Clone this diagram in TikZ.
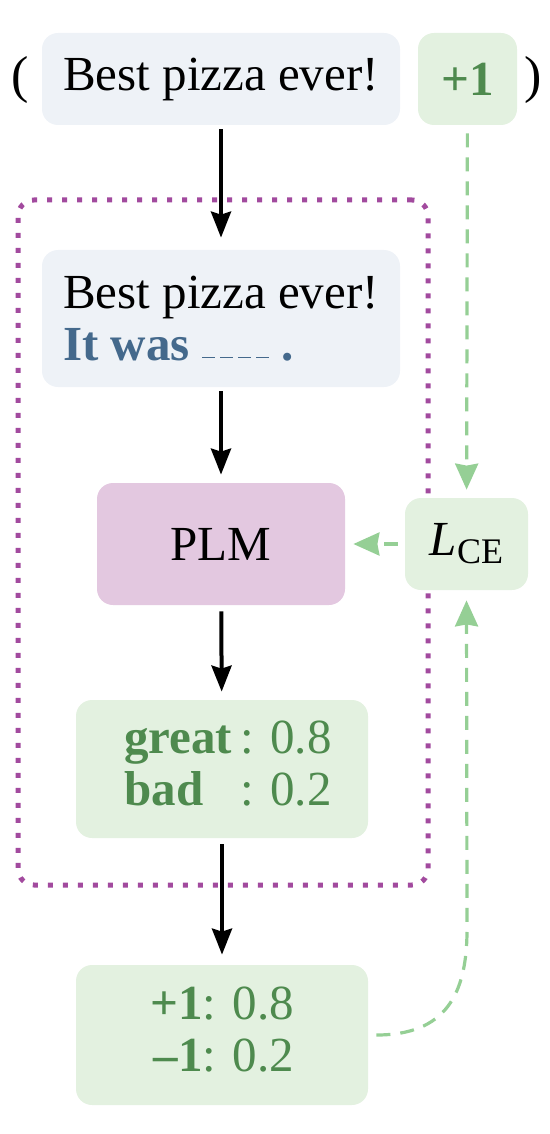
\documentclass[tikz,border=0pt]{standalone}
\usepackage{fontspec}
\setmainfont{Liberation Serif}
\usetikzlibrary{arrows.meta, positioning}
\definecolor{boxblue}{HTML}{EEF2F7}
\definecolor{boxgreen}{HTML}{E3F1E0}
\definecolor{boxplm}{HTML}{E3C8E0}
\definecolor{textgreen}{HTML}{4E8A4E}
\definecolor{textblue}{HTML}{44698C}
\definecolor{linegreen}{HTML}{95CF95}
\definecolor{framepurple}{HTML}{A24A9E}
\newcommand{\blankdash}{\rule[1pt]{6.5pt}{0.9pt}}

\begin{document}
\begin{tikzpicture}[x=0.5pt, y=-0.5pt,
	box/.style={rectangle, rounded corners=8pt, inner sep=0pt, align=center,
	            font=\fontsize{24.5}{26}\selectfont},
	sent/.style={box, fill=boxblue, minimum width=179pt},
	gbox/.style={box, fill=boxgreen, text=textgreen},
	plm/.style={box, fill=boxplm, minimum width=124pt, minimum height=61pt},
	paren/.style={inner sep=0pt, font=\fontsize{26}{26}\selectfont},
	frame/.style={rectangle, draw=framepurple, line width=2.5pt, rounded corners=8pt,
	              dash pattern=on 2.5pt off 5pt, minimum width=205pt, minimum height=342.5pt},
	arr/.style={-{Stealth[length=13pt,width=10pt,inset=1.5pt]}, line width=2pt},
	garr/.style={-{Stealth[length=13pt,width=11.5pt,inset=1pt]}, draw=linegreen, line width=1.6pt,
	             dash pattern=on 7pt off 5pt}
	]
\useasboundingbox (0,0) rectangle (550,1134);

% input pair
\node[paren] (lp) at (20,80) {(};
\node[sent, minimum height=46pt] (inp) at (221,79) {Best pizza ever!};
\node[gbox, minimum width=49.5pt, minimum height=46pt] (lab) at (467.5,79) {\textbf{+1}};
\node[paren] (rp) at (533,80) {)};

% prompt model
\node[frame] (frm) at (223,542.5) {};
\node[sent, minimum height=68.5pt, align=left] (tpl) at (221,318.5)
	{Best pizza ever!\\ \textcolor{textblue}{\textbf{It was}
	\blankdash\hspace{2.5pt}\blankdash\hspace{2.5pt}\blankdash\hspace{2.5pt}\blankdash\ \textbf{.}}};
\node[plm] (plm) at (221,544) {PLM};
\node[gbox, minimum width=146pt, minimum height=69pt] (words) at (222,769)
	{\hspace*{6pt}\begin{tabular}{@{}l@{\,}l@{}}\textbf{great} & : 0.8\\ \textbf{bad} & : 0.2\end{tabular}};
\node[gbox, minimum width=146pt, minimum height=70pt] (cls) at (222,1035)
	{\begin{tabular}{@{}r@{}l@{}}\textbf{+1} & : 0.8\\ \textbf{--1} & : 0.2\end{tabular}};

% loss
\node[gbox, text=black, minimum width=61.5pt, minimum height=46pt] (lce) at (466.5,544)
	{\textit{L}\raisebox{-0.35ex}{\fontsize{18}{18}\selectfont CE}};
\coordinate (bend) at (467,930);

\draw[arr, shorten <=2pt, shorten >=6pt] (inp) -- (tpl);
\draw[arr, shorten <=2pt, shorten >=4pt] (tpl) -- (plm);
\draw[arr, shorten <=3pt, shorten >=4pt] (plm) -- (words);
\draw[arr, shorten <=3pt, shorten >=5pt] (words) -- (cls);

\draw[garr, shorten <=4pt, shorten >=4pt] (lab) -- (lce);
\draw[garr, shorten <=3.5pt, shorten >=4pt] (lce) -- (plm);
\draw[garr, shorten <=4pt, shorten >=5pt] (cls.east) .. controls (445,1035) and (467,995) .. (bend) -- (lce.south);
\end{tikzpicture}
\end{document}
